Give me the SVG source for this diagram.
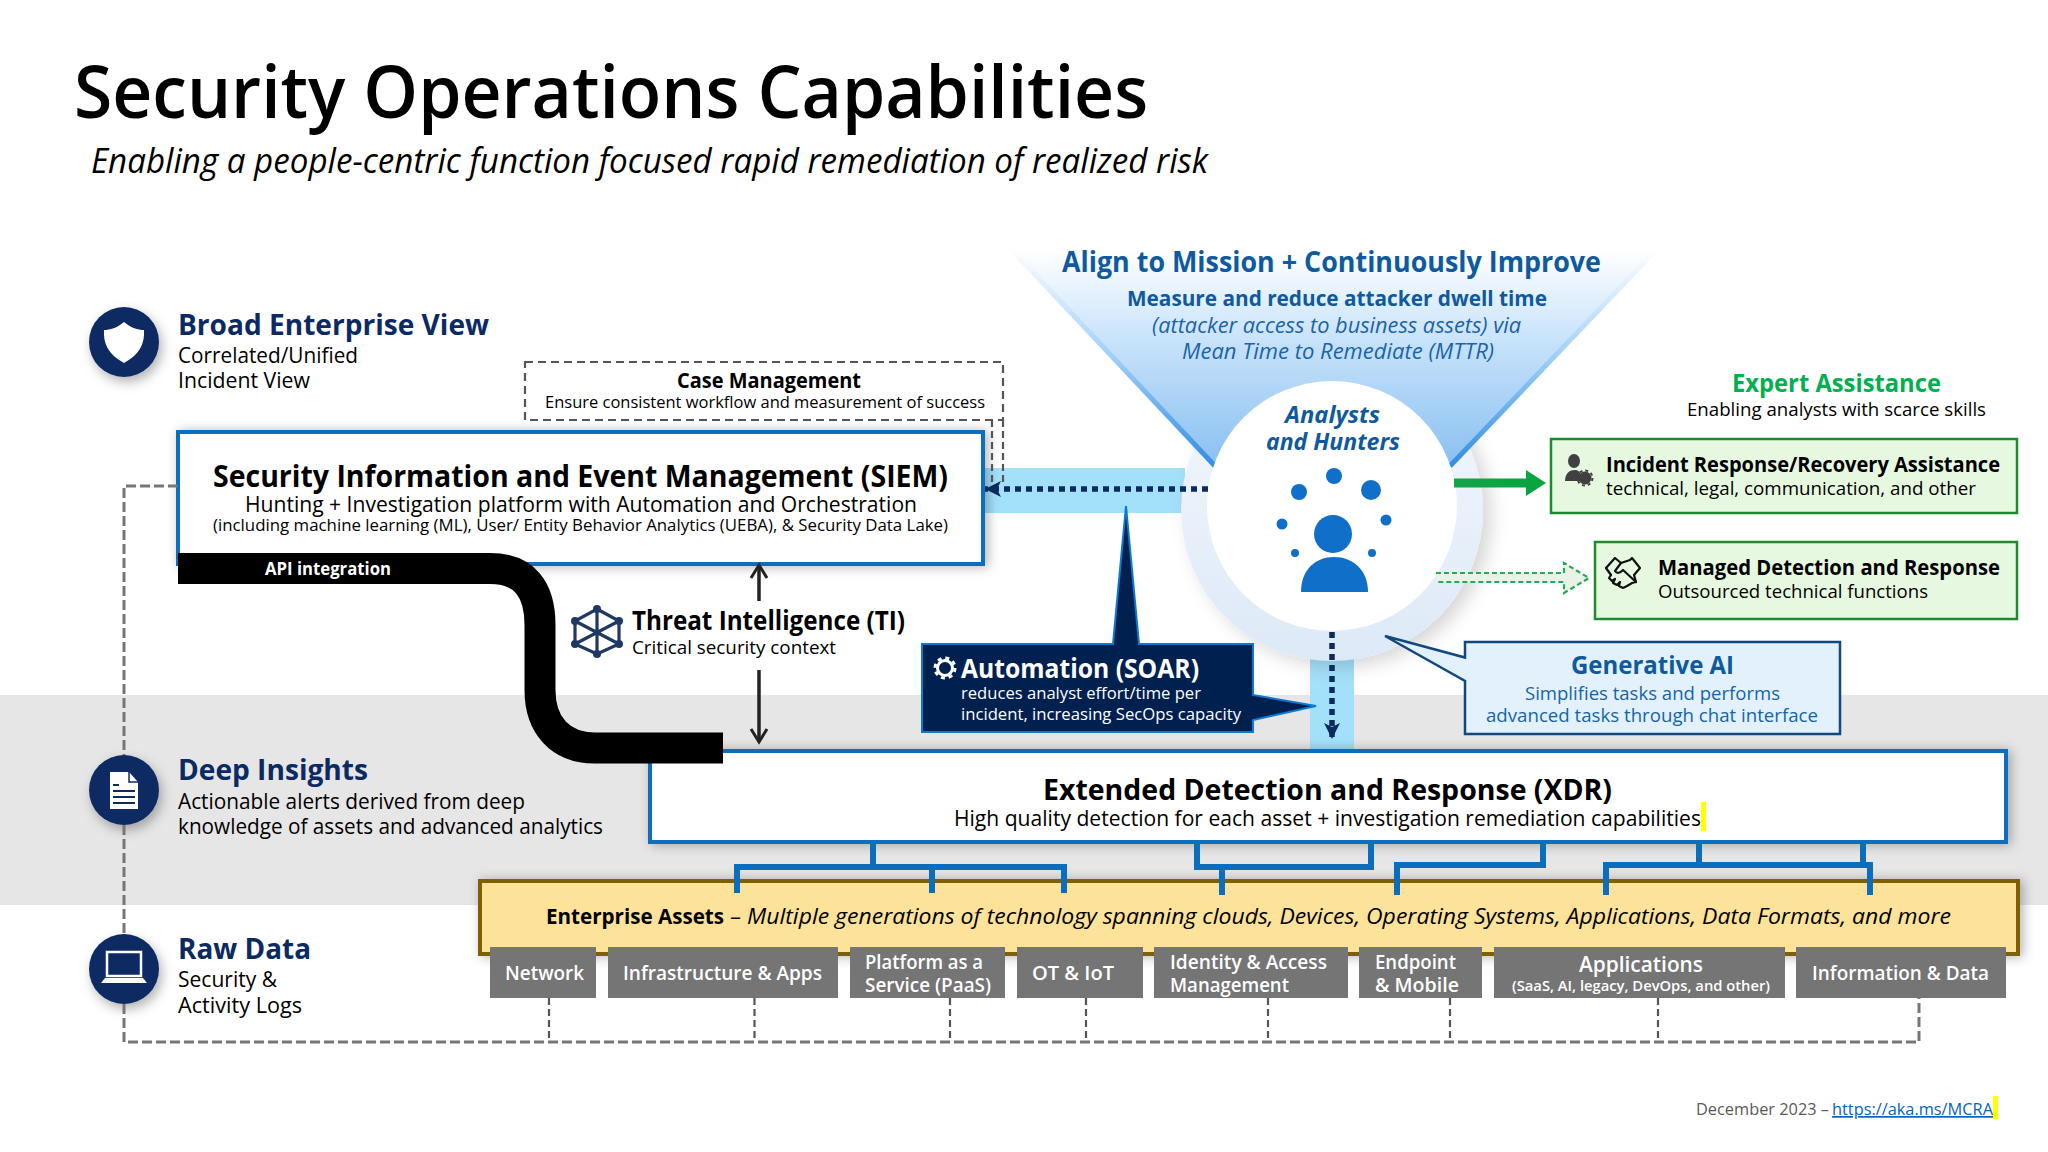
<svg xmlns="http://www.w3.org/2000/svg" width="2048" height="1152" viewBox="0 0 2048 1152">
<style>
text{font-family:"Open Sans","Noto Sans","Liberation Sans",sans-serif;fill:#000}
.sb{font-weight:700}.b{font-weight:700}.i{font-style:italic}
.navy{fill:#0b2a63}.blue{fill:#0f5a9e}.w{fill:#fff}
.lab{font-size:20px;font-weight:600;fill:#fff}
.dash{fill:none;stroke:#767676;stroke-width:3;stroke-dasharray:10 4}
.dash2{fill:none;stroke:#555;stroke-width:2.2;stroke-dasharray:7 4}
.bl{fill:none;stroke:#0a6ebd;stroke-width:6}
.dot{fill:none;stroke:#0b2a5e;stroke-width:5.5;stroke-dasharray:6 5}
.gbox{fill:#757575}
.gr{fill:#e7f8e1;stroke:#1f8a2e;stroke-width:2.5}
.ppl{fill:#0f6fc9}
</style>
<defs>
<filter id="sh" x="-10%" y="-30%" width="120%" height="170%"><feDropShadow dx="3" dy="1" stdDeviation="6" flood-color="#000" flood-opacity=".3"/></filter>
<filter id="sh2" x="-30%" y="-30%" width="170%" height="170%"><feDropShadow dx="3" dy="5" stdDeviation="6" flood-color="#000" flood-opacity=".3"/></filter>
<filter id="glow" x="-20%" y="-20%" width="150%" height="150%"><feDropShadow dx="8" dy="6" stdDeviation="9" flood-color="#000" flood-opacity=".16"/></filter>
<linearGradient id="fun" x1="0" y1="0" x2="0" y2="1"><stop offset="0" stop-color="#fff"/><stop offset=".3" stop-color="#c6e2fa"/><stop offset="1" stop-color="#5aa5ea"/></linearGradient>
<linearGradient id="edge" gradientUnits="userSpaceOnUse" x1="0" y1="250" x2="0" y2="470"><stop offset="0" stop-color="#fff"/><stop offset=".5" stop-color="#9ccdf7"/><stop offset="1" stop-color="#2f8be0"/></linearGradient>
<linearGradient id="ring" x1="0" y1="0" x2="0" y2="1"><stop offset="0" stop-color="#f4f8fd"/><stop offset="1" stop-color="#dde9f7"/></linearGradient>
<linearGradient id="grn" x1="0" y1="0" x2="1" y2="0"><stop offset="0" stop-color="#16a34a"/><stop offset="1" stop-color="#03a53e"/></linearGradient>
<marker id="ah" markerUnits="userSpaceOnUse" markerWidth="20" markerHeight="20" refX="16" refY="8" orient="auto"><path d="M0 0L16 8L0 16L4 8Z" fill="#0b2a5e"/></marker>
<marker id="ao" markerUnits="userSpaceOnUse" markerWidth="24" markerHeight="24" refX="16" refY="10" orient="auto"><path d="M3 2L16 10L3 18" fill="none" stroke="#222" stroke-width="3"/></marker>
</defs>
<rect width="2048" height="1152" fill="#fff"/>
<rect id="band" x="0" y="695" width="2048" height="210" fill="#e6e6e6"/>

<g id="title">
<text x="74" y="118" font-size="72" textLength="1074" lengthAdjust="spacingAndGlyphs" style="font-weight:600">Security Operations Capabilities</text>
<text x="91" y="173" font-size="34" class="i" textLength="1117" lengthAdjust="spacingAndGlyphs" fill="#111">Enabling a people-centric function focused rapid remediation of realized risk</text>
</g>

<g id="flow-bands">
<rect x="984" y="468" width="201" height="45" fill="#a3e0fa"/>
<rect x="1310" y="655" width="44" height="96" fill="#a3e0fa"/>
</g>

<g id="node-analysts">
<circle cx="1332" cy="510" r="151" fill="url(#ring)" filter="url(#glow)"/>
<path d="M1012 250H1656L1450 466L1332 560L1215 466Z" fill="url(#fun)"/>
<path d="M1012 250L1215 466M1656 250L1450 466" fill="none" stroke="url(#edge)" stroke-width="5"/>
<circle cx="1332" cy="506" r="125" fill="#fff"/>
<text x="1062" y="272" font-size="28" class="sb blue" textLength="539" lengthAdjust="spacingAndGlyphs">Align to Mission + Continuously Improve</text>
<text x="1127" y="306" font-size="22" class="sb blue" textLength="420" lengthAdjust="spacingAndGlyphs">Measure and reduce attacker dwell time</text>
<text x="1152" y="333" font-size="22" class="i" style="fill:#1a64a8" textLength="369" lengthAdjust="spacingAndGlyphs">(attacker access to business assets) via</text>
<text x="1182" y="359" font-size="22" class="i" style="fill:#1a64a8" textLength="312" lengthAdjust="spacingAndGlyphs">Mean Time to Remediate (MTTR)</text>
<text x="1285" y="423" font-size="24" class="sb i blue" textLength="95" lengthAdjust="spacingAndGlyphs">Analysts</text>
<text x="1266" y="450" font-size="24" class="sb i blue" textLength="134" lengthAdjust="spacingAndGlyphs">and Hunters</text>
<g class="ppl">
<circle cx="1334" cy="476" r="8"/><circle cx="1299" cy="492" r="8"/><circle cx="1371" cy="490" r="10"/>
<circle cx="1282" cy="524" r="5.5"/><circle cx="1386" cy="520" r="5.5"/><circle cx="1295" cy="553" r="4"/><circle cx="1372" cy="553" r="4"/>
<circle cx="1333" cy="534" r="19"/>
<path d="M1301 592C1301 570 1315 557 1334 557C1353 557 1368 570 1368 592Z"/>
</g>
</g>

<g id="node-broad">
<circle cx="124" cy="342" r="35" fill="#0b2a63" filter="url(#sh2)"/>
<path d="M124 322C131 328 138 330 144 330C145 344 139 355 124 363C109 355 103 344 104 330C110 330 117 328 124 322Z" fill="#fff"/>
<text x="178" y="335" font-size="29" class="sb navy" textLength="311" lengthAdjust="spacingAndGlyphs">Broad Enterprise View</text>
<text x="178" y="363" font-size="21" textLength="180" lengthAdjust="spacingAndGlyphs">Correlated/Unified</text>
<text x="178" y="388" font-size="21" textLength="132" lengthAdjust="spacingAndGlyphs">Incident View</text>
</g>

<g id="node-case">
<rect x="525" y="362" width="478" height="58" fill="#fff" stroke="#555" stroke-width="2.2" stroke-dasharray="8 5"/>
<text x="677" y="388" font-size="21" class="sb" textLength="184" lengthAdjust="spacingAndGlyphs">Case Management</text>
<text x="545" y="408" font-size="17" textLength="440" lengthAdjust="spacingAndGlyphs">Ensure consistent workflow and measurement of success</text>
</g>

<g id="node-siem">
<rect x="178" y="432" width="805" height="132" fill="#fff" stroke="#0a6ebd" stroke-width="4" filter="url(#sh)"/>
<text x="213" y="487" font-size="30" class="sb" textLength="735" lengthAdjust="spacingAndGlyphs">Security Information and Event Management (SIEM)</text>
<text x="245" y="512" font-size="21" textLength="672" lengthAdjust="spacingAndGlyphs">Hunting + Investigation platform with Automation and Orchestration</text>
<text x="213" y="531" font-size="16" textLength="735" lengthAdjust="spacingAndGlyphs">(including machine learning (ML), User/ Entity Behavior Analytics (UEBA), &amp; Security Data Lake)</text>
</g>

<g id="node-ti">
<g fill="none" stroke="#1f3864" stroke-width="3.2">
<path d="M597 609L619 621V644L597 654L575 644V621Z"/>
<path d="M575 621L619 644M619 621L575 644M597 609V654"/>
</g>
<g fill="#1f3864"><circle cx="597" cy="609" r="4"/><circle cx="619" cy="621" r="4"/><circle cx="619" cy="644" r="4"/><circle cx="597" cy="654" r="4"/><circle cx="575" cy="644" r="4"/><circle cx="575" cy="621" r="4"/></g>
<text x="632" y="630" font-size="26" class="sb" textLength="273" lengthAdjust="spacingAndGlyphs">Threat Intelligence (TI)</text>
<text x="632" y="654" font-size="19" textLength="204" lengthAdjust="spacingAndGlyphs">Critical security context</text>
</g>

<g id="node-soar">
<path d="M922 644H1113L1126 506L1139 644H1253V695L1316 706L1253 720V732H922Z" fill="#002050" stroke="#0a7bd0" stroke-width="2"/>
<circle cx="945" cy="668" r="7.5" fill="none" stroke="#fff" stroke-width="3"/>
<circle cx="945" cy="668" r="10" fill="none" stroke="#fff" stroke-width="3" stroke-dasharray="4 3.85"/>
<text x="961" y="678" font-size="26" class="sb w" textLength="238" lengthAdjust="spacingAndGlyphs">Automation (SOAR)</text>
<text x="961" y="699" font-size="17" class="w" textLength="240" lengthAdjust="spacingAndGlyphs">reduces analyst effort/time per</text>
<text x="961" y="720" font-size="17" class="w" textLength="280" lengthAdjust="spacingAndGlyphs">incident, increasing SecOps capacity</text>
</g>

<g id="node-genai">
<path d="M1385 636L1465 657.500V642H1840V734H1465V681Z" fill="#e3f1fd" stroke="#10487f" stroke-width="2.5"/>
<text x="1571" y="674" font-size="25" class="sb blue" textLength="163" lengthAdjust="spacingAndGlyphs">Generative AI</text>
<text x="1525" y="700" font-size="19" style="fill:#1565a8" textLength="255" lengthAdjust="spacingAndGlyphs">Simplifies tasks and performs</text>
<text x="1486" y="722" font-size="19" style="fill:#1565a8" textLength="332" lengthAdjust="spacingAndGlyphs">advanced tasks through chat interface</text>
</g>

<g id="node-expert">
<text x="1732" y="392" font-size="25" class="sb" style="fill:#00b050" textLength="209" lengthAdjust="spacingAndGlyphs">Expert Assistance</text>
<text x="1687" y="416" font-size="19" textLength="299" lengthAdjust="spacingAndGlyphs">Enabling analysts with scarce skills</text>
</g>

<g id="node-ir">
<rect x="1551" y="439" width="466" height="74" class="gr"/>
<g fill="#404040">
<ellipse cx="1574" cy="461" rx="6" ry="7"/>
<path d="M1565 481C1565 473 1570 470 1575 470C1578 470 1580 472 1580 473V481Z"/>
<circle cx="1585" cy="478" r="6.5"/>
<circle cx="1585" cy="478" r="7.5" fill="none" stroke="#404040" stroke-width="2" stroke-dasharray="3 2.9"/>
</g>
<text x="1606" y="472" font-size="21" class="sb" textLength="394" lengthAdjust="spacingAndGlyphs">Incident Response/Recovery Assistance</text>
<text x="1606" y="495" font-size="18.500" textLength="370" lengthAdjust="spacingAndGlyphs">technical, legal, communication, and other</text>
</g>

<g id="node-mdr">
<rect x="1595" y="542" width="422" height="77" class="gr"/>
<g fill="none" stroke="#111" stroke-width="2.2" stroke-linejoin="round" stroke-linecap="round">
<path d="M1606 568L1615 558L1621 563L1630 560L1632 558L1640 568L1634 575"/>
<path d="M1606 568L1611 575M1621 563L1615 571C1617 574 1620 573 1623 570L1636 582"/>
<path d="M1611 575L1609 578L1612 581L1615 579L1613 583L1617 585L1620 582L1619 586L1623 588L1627 586L1632 583L1636 582L1634 575"/>
</g>
<text x="1658" y="575" font-size="21" class="sb" textLength="342" lengthAdjust="spacingAndGlyphs">Managed Detection and Response</text>
<text x="1658" y="598" font-size="18.500" textLength="270" lengthAdjust="spacingAndGlyphs">Outsourced technical functions</text>
</g>

<g id="node-xdr">
<rect x="650" y="751" width="1356" height="91" fill="#fff" stroke="#0a6ebd" stroke-width="4" filter="url(#sh)"/>
<text x="1043" y="800" font-size="29" class="sb" textLength="569" lengthAdjust="spacingAndGlyphs">Extended Detection and Response (XDR)</text>
<text x="954" y="826" font-size="21" textLength="747" lengthAdjust="spacingAndGlyphs">High quality detection for each asset + investigation remediation capabilities</text>
<rect x="1701" y="802" width="5" height="29" fill="#ffff00"/>
</g>

<g id="node-deep">
<circle cx="124" cy="790" r="35" fill="#0b2a63" filter="url(#sh2)"/>
<path d="M110 772H129L138 782V809H110Z" fill="#fff"/>
<path d="M129 772V782H138" fill="none" stroke="#0b2a63" stroke-width="1.500"/>
<path d="M113 785H119M113 791H135M113 797H135M113 803H135" stroke="#0b2a63" stroke-width="2"/>
<text x="178" y="780" font-size="29" class="sb navy" textLength="190" lengthAdjust="spacingAndGlyphs">Deep Insights</text>
<text x="178" y="809" font-size="21" textLength="347" lengthAdjust="spacingAndGlyphs">Actionable alerts derived from deep</text>
<text x="178" y="834" font-size="21" textLength="425" lengthAdjust="spacingAndGlyphs">knowledge of assets and advanced analytics</text>
</g>

<g id="node-raw">
<circle cx="124" cy="969" r="35" fill="#0b2a63" filter="url(#sh2)"/>
<rect x="107" y="952" width="34" height="24" fill="none" stroke="#fff" stroke-width="2.500"/>
<path d="M105 978H143L147 983H101Z" fill="#fff"/>
<text x="178" y="959" font-size="29" class="sb navy" textLength="133" lengthAdjust="spacingAndGlyphs">Raw Data</text>
<text x="178" y="987" font-size="21" textLength="99" lengthAdjust="spacingAndGlyphs">Security &amp;</text>
<text x="178" y="1013" font-size="21" textLength="124" lengthAdjust="spacingAndGlyphs">Activity Logs</text>
</g>

<g id="node-assets">
<rect x="480" y="881" width="1538" height="73" fill="#fde39a" stroke="#7f6000" stroke-width="4" filter="url(#sh)"/>
<text x="546" y="924" font-size="22" class="sb" textLength="178" lengthAdjust="spacingAndGlyphs">Enterprise Assets</text>
<text x="730" y="924" font-size="22">–</text>
<text x="747" y="924" font-size="22" class="i" textLength="1204" lengthAdjust="spacingAndGlyphs">Multiple generations of technology spanning clouds, Devices, Operating Systems, Applications, Data Formats, and more</text>
</g>
<g id="asset-network"><rect class="gbox" x="490" y="947" width="106" height="51"/><text class="lab" x="505" y="980" textLength="79" lengthAdjust="spacingAndGlyphs">Network</text></g>
<g id="asset-infra"><rect class="gbox" x="608" y="947" width="230" height="51"/><text class="lab" x="623" y="980" textLength="199" lengthAdjust="spacingAndGlyphs">Infrastructure &amp; Apps</text></g>
<g id="asset-paas"><rect class="gbox" x="850" y="947" width="155" height="51"/><text class="lab" x="865" y="969" textLength="118" lengthAdjust="spacingAndGlyphs">Platform as a</text><text class="lab" x="865" y="992" textLength="126" lengthAdjust="spacingAndGlyphs">Service (PaaS)</text></g>
<g id="asset-ot"><rect class="gbox" x="1017" y="947" width="126" height="51"/><text class="lab" x="1032" y="980" textLength="82" lengthAdjust="spacingAndGlyphs">OT &amp; IoT</text></g>
<g id="asset-iam"><rect class="gbox" x="1154" y="947" width="194" height="51"/><text class="lab" x="1170" y="969" textLength="157" lengthAdjust="spacingAndGlyphs">Identity &amp; Access</text><text class="lab" x="1170" y="992" textLength="119" lengthAdjust="spacingAndGlyphs">Management</text></g>
<g id="asset-endpoint"><rect class="gbox" x="1359" y="947" width="123" height="51"/><text class="lab" x="1375" y="969" textLength="81" lengthAdjust="spacingAndGlyphs">Endpoint</text><text class="lab" x="1375" y="992" textLength="84" lengthAdjust="spacingAndGlyphs">&amp; Mobile</text></g>
<g id="asset-apps"><rect class="gbox" x="1494" y="947" width="291" height="51"/><text class="lab" x="1579" y="972" style="font-size:22px" textLength="124" lengthAdjust="spacingAndGlyphs">Applications</text><text class="lab" x="1512" y="991" style="font-size:14px" textLength="258" lengthAdjust="spacingAndGlyphs">(SaaS, AI, legacy, DevOps, and other)</text></g>
<g id="asset-info"><rect class="gbox" x="1796" y="947" width="210" height="51"/><text class="lab" x="1812" y="980" textLength="177" lengthAdjust="spacingAndGlyphs">Information &amp; Data</text></g>

<g id="footer">
<text x="1696" y="1115" font-size="17" style="fill:#595959" textLength="133" lengthAdjust="spacingAndGlyphs">December 2023 –</text>
<text x="1832" y="1115" font-size="17" style="fill:#0563c1" text-decoration="underline" textLength="161" lengthAdjust="spacingAndGlyphs">https://aka.ms/MCRA</text>
<rect x="1993" y="1096" width="5" height="23" fill="#ffff00"/>
</g>

<g id="connectors">
<path class="dash" d="M178 486H124V755M124 825V934M124 1004V1042H1919V998"/>
<path class="dash2" d="M549 998V1042M754.500 998V1042M950 998V1042M1086 998V1042M1268 998V1042M1450 998V1042M1658 998V1042"/>
<path class="dash2" d="M1003 420V486M992 420V485"/>
<path class="dot" d="M1208 489H985" marker-end="url(#ah)"/>
<path class="dot" d="M1332 632V739" marker-end="url(#ah)"/>
<path d="M759 601V565" fill="none" stroke="#222" stroke-width="3.500" marker-end="url(#ao)"/>
<path d="M759 670V742" fill="none" stroke="#222" stroke-width="3.500" marker-end="url(#ao)"/>
<path d="M1454 478.500H1526V470L1546 483L1526 496V487.500H1454Z" fill="url(#grn)"/>
<path d="M1436 573H1564V563L1589 578L1564 593V582H1436" fill="#e8f2e6" stroke="#22ad55" stroke-width="2.2" stroke-dasharray="5 3"/>
<path class="bl" d="M873 842V867M737 893V867H1064V893M932 867V893"/>
<path class="bl" d="M1197 842V867H1371V842M1222 867V895"/>
<path class="bl" d="M1543 842V865H1397V895"/>
<path class="bl" d="M1699 842V865M1863 842V865M1606 895V865H1870V895"/>
<g id="api-integration">
<path d="M178 568.500H490C525 568.500 540 590 540 625V690C540 725 560 748 595 748H723" fill="none" stroke="#000" stroke-width="31"/>
<text x="265" y="575" font-size="17" class="sb w" textLength="126" lengthAdjust="spacingAndGlyphs">API integration</text>
</g>
</g>
</svg>
